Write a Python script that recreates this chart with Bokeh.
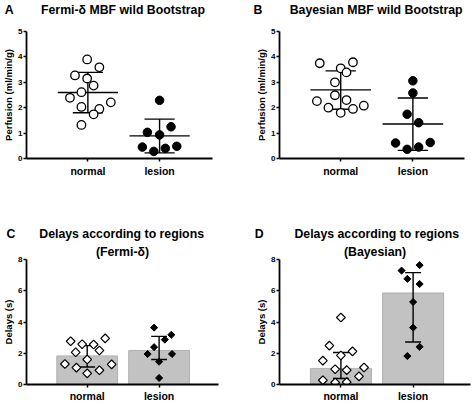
import numpy as np
from bokeh.plotting import figure
from bokeh.models import Range1d, FixedTicker, Title
from bokeh.layouts import column, row
from bokeh.embed import file_html
from bokeh.resources import INLINE

categories = ["normal", "lesion"]

# ---- Panel A: Fermi-delta MBF wild Bootstrap (perfusion, ml/min/g)
a_normal = [3.90, 3.59, 3.27, 3.15, 2.87, 2.61, 2.39, 2.21, 2.03, 1.95, 1.74, 1.32]
a_normal_jitter = [-0.01, 0.16, -0.18, -0.01, 0.08, -0.09, -0.25, 0.32, -0.09, 0.16, 0.08, -0.09]
a_lesion = [2.29, 1.03, 1.25, 0.93, 0.45, 0.48, 0.40, 0.28]
a_lesion_jitter = [0.0, -0.17, 0.16, 0.0, -0.24, 0.24, 0.08, -0.08]
a_mean = [2.60, 0.89]
a_low = [1.80, 0.22]
a_high = [3.39, 1.55]

# ---- Panel B: Bayesian MBF wild Bootstrap
b_normal = [3.75, 3.79, 3.55, 3.39, 3.00, 2.49, 2.26, 2.30, 2.08, 2.00, 1.95, 1.80]
b_normal_jitter = [-0.29, 0.17, 0.0, 0.08, -0.08, -0.08, -0.33, 0.08, 0.32, -0.17, 0.17, 0.0]
b_lesion = [3.06, 2.58, 1.74, 1.41, 0.61, 0.63, 0.45, 0.36]
b_lesion_jitter = [0.0, 0.0, -0.08, 0.08, -0.24, 0.24, 0.08, -0.08]
b_mean = [2.70, 1.36]
b_low = [1.94, 0.32]
b_high = [3.45, 2.38]

# ---- Panel C: Delays (Fermi-delta)
c_normal = [2.77, 2.95, 2.58, 2.56, 2.06, 2.18, 1.60, 1.31, 1.29, 1.08, 0.91, 0.71]
c_normal_jitter = [-0.23, 0.25, -0.07, 0.09, -0.16, 0.17, 0.0, -0.31, 0.34, -0.15, 0.17, 0.0]
c_lesion = [3.64, 3.18, 2.87, 2.39, 1.95, 1.95, 1.46, 0.42]
c_lesion_jitter = [-0.07, 0.17, 0.08, -0.07, -0.16, 0.18, 0.0, 0.0]
c_bar = [1.83, 2.18]
c_low = [1.12, 1.60]
c_high = [2.49, 3.08]

# ---- Panel D: Delays (Bayesian)
d_normal = [4.29, 2.49, 2.12, 1.86, 1.53, 1.09, 0.98, 0.92, 0.52, 0.27, 0.13, 0.15]
d_normal_jitter = [0.0, -0.16, 0.16, 0.0, -0.25, 0.32, -0.08, 0.08, 0.25, -0.25, -0.08, 0.08]
d_lesion = [7.64, 7.29, 6.76, 6.43, 5.28, 3.64, 2.41, 1.82]
d_lesion_jitter = [0.09, -0.16, -0.08, 0.09, 0.0, 0.0, 0.09, -0.08]
d_bar = [1.03, 5.86]
d_low = [0.38, 2.72]
d_high = [2.05, 7.16]

FONT = "Liberation Sans"
NB = "\u00a0"
cat_x = [1, 2]


def make_panel(w, h, borders, xr, yr, yticks, ylabel):
    left, right, top, bottom = borders
    p = figure(width=w, height=h, output_backend="svg", toolbar_location=None,
               x_range=Range1d(*xr), y_range=Range1d(*yr),
               min_border_left=left, min_border_right=right,
               min_border_top=top, min_border_bottom=bottom)
    p.outline_line_color = None
    p.xgrid.visible = False
    p.ygrid.visible = False
    p.background_fill_color = "white"
    p.border_fill_color = "white"
    for ax in (p.xaxis[0], p.yaxis[0]):
        ax.axis_line_color = "black"
        ax.axis_line_width = 1.8
        ax.major_tick_line_color = "black"
        ax.major_tick_line_width = 1.5
        ax.major_tick_in = 0
        ax.minor_tick_line_color = None
        ax.major_label_text_font = FONT
        ax.major_label_text_font_style = "bold"
        ax.major_label_text_color = "black"
    p.yaxis.ticker = FixedTicker(ticks=yticks)
    p.yaxis.major_tick_out = 3
    p.yaxis.major_label_standoff = 1
    p.yaxis.major_label_text_font_size = "8px"
    p.yaxis.axis_label = ylabel
    p.yaxis.axis_label_text_font = FONT
    p.yaxis.axis_label_text_font_style = "bold"
    p.yaxis.axis_label_text_font_size = "9.5px"
    p.yaxis.axis_label_text_color = "black"
    p.yaxis.axis_label_standoff = 1
    p.xaxis.ticker = FixedTicker(ticks=cat_x)
    p.xaxis.major_label_overrides = {1: categories[0], 2: categories[1]}
    p.xaxis.major_tick_out = 3
    p.xaxis.major_label_text_font_size = "10.5px"
    p.xaxis.major_label_standoff = 3
    return p


def add_title(p, text, align, offset, standoff, size="12.3px"):
    p.add_layout(Title(text=text, align=align, offset=offset, standoff=standoff,
                       text_font=FONT, text_font_size=size, text_font_style="bold",
                       text_color="black"), "above")


def scatter_panel(p, normal, nj, lesion, lj, mean, low, high):
    xs = np.array(cat_x, dtype=float)
    p.segment(xs - 0.42, mean, xs + 0.42, mean, line_color="black", line_width=1.4)
    p.segment(xs, low, xs, high, line_color="black", line_width=1.4)
    p.segment(xs - 0.21, low, xs + 0.21, low, line_color="black", line_width=1.4)
    p.segment(xs - 0.21, high, xs + 0.21, high, line_color="black", line_width=1.4)
    p.scatter(1 + np.array(nj), normal, marker="circle", size=8.5,
              fill_color="white", line_color="black", line_width=1.3)
    p.scatter(2 + np.array(lj), lesion, marker="circle", size=8.5,
              fill_color="black", line_color="black", line_width=1.0)


def bar_panel(p, normal, nj, lesion, lj, bar, low, high):
    xs = np.array(cat_x, dtype=float)
    p.vbar(x=xs, top=bar, bottom=0, width=0.845, fill_color="#c2c2c2",
           line_color="#b0b0b0", line_width=1)
    p.segment(xs, low, xs, high, line_color="black", line_width=1.4)
    p.segment(xs - 0.11, low, xs + 0.11, low, line_color="black", line_width=1.4)
    p.segment(xs - 0.11, high, xs + 0.11, high, line_color="black", line_width=1.4)
    p.scatter(1 + np.array(nj), normal, marker="square", angle=np.pi / 4, size=6.2,
              fill_color="white", line_color="black", line_width=1.2)
    p.scatter(2 + np.array(lj), lesion, marker="square", angle=np.pi / 4, size=5.0,
              fill_color="black", line_color="black", line_width=1.0)


# Panel A
xrA, yrA = (0.144, 2.738), (0, 5)
pA = make_panel(237, 200, (25, 25, 29, 42), xrA, yrA, [0, 1, 2, 3, 4, 5], "Perfusion (ml/min/g)")
scatter_panel(pA, a_normal, a_normal_jitter, a_lesion, a_lesion_jitter, a_mean, a_low, a_high)
add_title(pA, NB, "left", 0, 12, "1px")
add_title(pA, "A" + NB * 8 + "Fermi-δ MBF wild Bootstrap", "left", -21.7, 0)

# Panel B
xrB, yrB = (0.152, 2.715), (0, 5)
pB = make_panel(237, 200, (42, 10, 29, 42), xrB, yrB, [0, 1, 2, 3, 4, 5], "Perfusion (ml/min/g)")
scatter_panel(pB, b_normal, b_normal_jitter, b_lesion, b_lesion_jitter, b_mean, b_low, b_high)
add_title(pB, NB, "left", 0, 12, "1px")
add_title(pB, "B" + NB * 8 + "Bayesian MBF wild Bootstrap", "left", -26, 0)

# Panel C
xrC, yrC = (0.156, 2.826), (0, 8)
pC = make_panel(237, 204, (25, 19, 58, 17), xrC, yrC, [0, 2, 4, 6, 8], "Delays (s)")
pC.xaxis.major_label_standoff = 2
bar_panel(pC, c_normal, c_normal_jitter, c_lesion, c_lesion_jitter, c_bar, c_low, c_high)
add_title(pC, "(Fermi-δ)", "center", 1, 1)
add_title(pC, "C" + NB * 7 + "Delays according to regions", "left", -20, 3)

# Panel D
xrD, yrD = (0.149, 2.795), (0, 8)
pD = make_panel(237, 204, (42, 4, 59, 17), xrD, yrD, [0, 2, 4, 6, 8], "Delays (s)")
pD.xaxis.major_label_standoff = 2
bar_panel(pD, d_normal, d_normal_jitter, d_lesion, d_lesion_jitter, d_bar, d_low, d_high)
add_title(pD, "(Bayesian)", "center", 1.5, 1)
add_title(pD, "D" + NB * 9 + "Delays according to regions", "left", -24.7, 3)

layout = column(row(pA, pB), row(pC, pD))
open("out.html", "w").write(file_html(layout, INLINE))
